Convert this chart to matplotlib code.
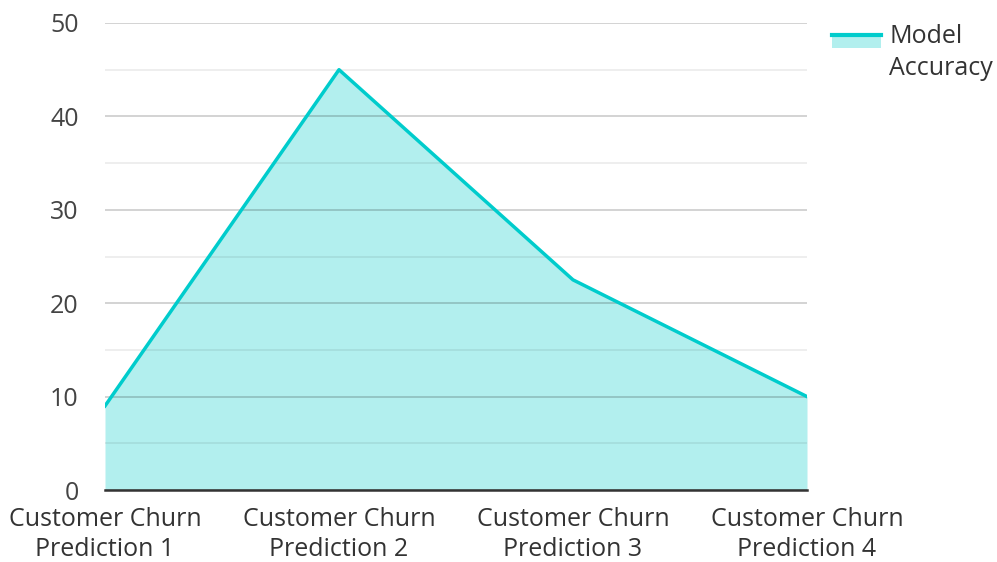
import matplotlib.pyplot as plt
from matplotlib.legend_handler import HandlerBase
from matplotlib.patches import Rectangle
from matplotlib.lines import Line2D
from matplotlib.ticker import MultipleLocator

plt.rcParams['font.family'] = ['Open Sans', 'DejaVu Sans']

categories = ['Customer Churn\nPrediction 1', 'Customer Churn\nPrediction 2',
              'Customer Churn\nPrediction 3', 'Customer Churn\nPrediction 4']
accuracy = [9, 45, 22.5, 10]
series_name = 'Model\nAccuracy'

LINE_COLOR = '#00cccc'
FILL_COLOR = '#b2efee'


class AreaHandler(HandlerBase):
    def create_artists(self, legend, orig_handle, xdescent, ydescent,
                       width, height, fontsize, trans):
        # patch under a thick line, next to the first text line
        y0 = height * 1.3 + 3.6
        rect = Rectangle((-xdescent, y0 - 9.5), width, 9.5,
                         facecolor=FILL_COLOR, edgecolor='none', transform=trans)
        line = Line2D([-xdescent, width - xdescent], [y0] * 2,
                      color=LINE_COLOR, lw=3, transform=trans)
        return [rect, line]


fig = plt.figure(figsize=(9.97, 5.62), dpi=100)
ax = fig.add_axes([105 / 997, 72 / 562, 702 / 997, 467 / 562])

x = list(range(len(categories)))
ax.fill_between(x, accuracy, 0, color=FILL_COLOR, lw=0, zorder=1)
line, = ax.plot(x, accuracy, color=LINE_COLOR, lw=2.5, zorder=3, label=series_name)

ax.set_xlim(0, len(categories) - 1)
ax.set_ylim(0, 50)
ax.set_xticks(x)
ax.set_xticklabels(categories, fontsize=18, color='#333333', linespacing=1.3)
ax.yaxis.set_major_locator(MultipleLocator(10))
ax.yaxis.set_minor_locator(MultipleLocator(5))
ax.tick_params(axis='y', which='both', length=0, pad=19, labelsize=18, labelcolor='#444444')
ax.tick_params(axis='x', length=0, pad=12)

ax.set_axisbelow(False)
ax.grid(axis='y', which='major', color='black', alpha=0.2, lw=1.2, zorder=2)
ax.grid(axis='y', which='minor', color='black', alpha=0.08, lw=1.2, zorder=2)

for s in ['top', 'right', 'left']:
    ax.spines[s].set_visible(False)
ax.spines['bottom'].set_color('#333333')
ax.spines['bottom'].set_linewidth(1.8)
ax.spines['bottom'].set_zorder(4)

leg = ax.legend(handles=[line], labels=[series_name], handler_map={line: AreaHandler()},
                loc='upper left', bbox_to_anchor=(1.003, 1.045), frameon=False,
                fontsize=18, handlelength=1.96, handletextpad=0.35, labelcolor='#333333')
for t in leg.get_texts():
    t.set_linespacing(1.35)

fig.savefig('out.png', dpi=100)
